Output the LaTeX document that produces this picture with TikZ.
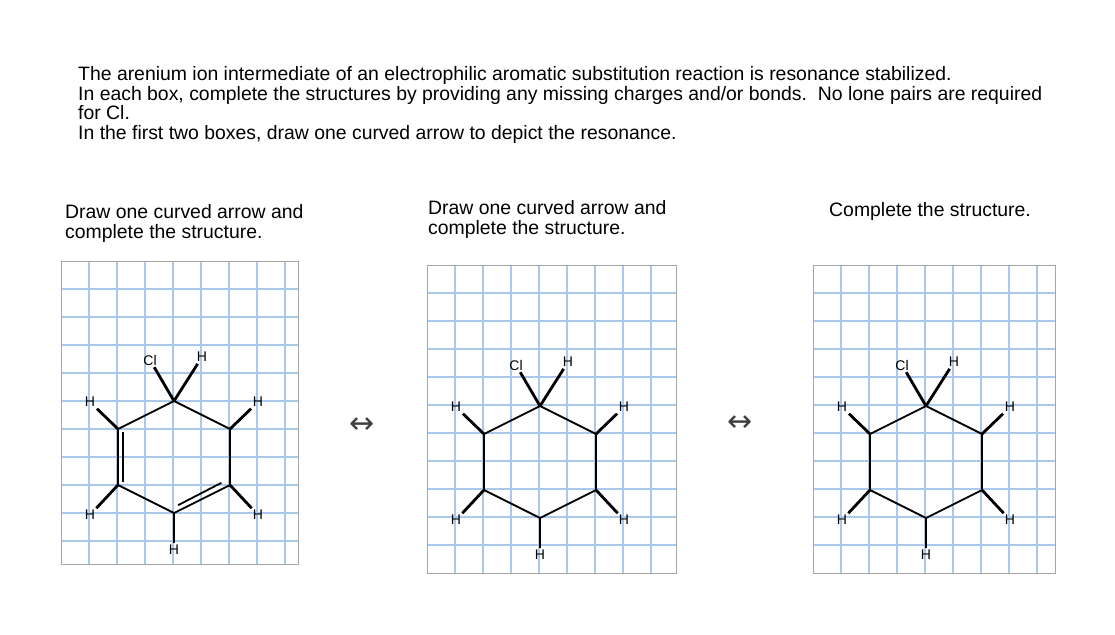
\documentclass[tikz,border=0pt]{standalone}
\usepackage{fontspec}
\setmainfont{Liberation Sans}
\newfontfamily\djv{DejaVu Sans}
\usetikzlibrary{calc}
\definecolor{gridblue}{RGB}{170,200,235}
\begin{document}
\begin{tikzpicture}[x=1pt,y=-1pt,
  gridc/.style={draw=gridblue, line width=1.1pt},
  boxc/.style={draw=gray!70, line width=1pt},
  bond/.style={line width=1.8pt},
  sbond/.style={line width=2.8pt, shorten >=1pt},
  lbl/.style={font=\fontsize{14}{14}\selectfont, inner sep=1pt},
  txt/.style={font=\fontsize{19.4}{20}\selectfont, anchor=base west, inner sep=0pt}]
\useasboundingbox (0,0) rectangle (1115,634);
\fill[white] (0,0) rectangle (1115,634);
\newcommand{\gridbox}[4]{%
  \foreach \xx in {28,56,...,260} {\pgfmathsetmacro\xv{#1+\xx}\pgfmathparse{\xv<#3?1:0}\ifnum\pgfmathresult=1 \draw[gridc] (\xv,#2) -- (\xv,#4);\fi}
  \foreach \yy in {28,56,...,320} {\pgfmathsetmacro\yv{#2+\yy}\pgfmathparse{\yv<#4?1:0}\ifnum\pgfmathresult=1 \draw[gridc] (#1,\yv) -- (#3,\yv);\fi}
  \draw[boxc] (#1,#2) rectangle (#3,#4);}
\newcommand{\mol}[3]{%
  \coordinate (#1t) at (#2,#3);
  \coordinate (#1ul) at (#2-56,#3+28);
  \coordinate (#1ll) at (#2-56,#3+84);
  \coordinate (#1b) at (#2,#3+112);
  \coordinate (#1lr) at (#2+56,#3+84);
  \coordinate (#1ur) at (#2+56,#3+28);
  \node[lbl] (#1Cl) at (#2-24,#3-41) {Cl};
  \node[lbl] (#1Ht) at (#2+28,#3-44) {H};
  \node[lbl] (#1Hul) at (#2-84,#3+1) {H};
  \node[lbl] (#1Hur) at (#2+84,#3+1) {H};
  \node[lbl] (#1Hll) at (#2-84,#3+114) {H};
  \node[lbl] (#1Hlr) at (#2+84,#3+114) {H};
  \node[lbl] (#1Hb) at (#2,#3+149) {H};
  \draw[bond, line join=round] (#1t) -- (#1ul) -- (#1ll) -- (#1b) -- (#1lr) -- (#1ur) -- cycle;
  \draw[sbond] (#1t) -- (#1Cl);
  \draw[sbond] (#1t) -- (#1Ht);
  \draw[sbond] (#1ul) -- (#1Hul);
  \draw[sbond] (#1ur) -- (#1Hur);
  \draw[sbond] (#1ll) -- (#1Hll);
  \draw[sbond] (#1lr) -- (#1Hlr);
  \draw[sbond] (#1b) -- (#1Hb);}
% header
\node[txt] (h1) at (78,80) {The arenium ion intermediate of an electrophilic aromatic substitution reaction is resonance stabilized.};
\node[txt] (h2) at (78,100) {In each box, complete the structures by providing any missing charges and/or bonds.\ \ No lone pairs are required};
\node[txt] (h3) at (78,119) {for Cl.};
\node[txt] (h4) at (78,139) {In the first two boxes, draw one curved arrow to depict the resonance.};
\node[txt] (c1a) at (65,218) {Draw one curved arrow and};
\node[txt] (c1b) at (65,238) {complete the structure.};
\node[txt] (c2a) at (428,214) {Draw one curved arrow and};
\node[txt] (c2b) at (428,234) {complete the structure.};
\node[txt] (c3) at (829,216) {Complete the structure.};
% boxes
\gridbox{61}{261}{298}{564}
\gridbox{427}{265}{676}{573}
\gridbox{813}{265}{1055}{573}
\mol{a}{174}{401}
\mol{b}{540}{406}
\mol{c}{926}{406}
% double bonds in first structure
\draw[bond] ($(aul)+(5,3)$) -- ($(all)+(5,-3)$);
\draw[bond] ($(ab)!0.1!(alr)+(-1.5,-5)$) -- ($(ab)!0.9!(alr)+(-3,-5)$);
\node[font=\djv\fontsize{30}{30}\selectfont, text=black!75] (r1) at (362,426) {↔};
\node[font=\djv\fontsize{30}{30}\selectfont, text=black!75] (r2) at (740,424) {↔};
\end{tikzpicture}
\end{document}
